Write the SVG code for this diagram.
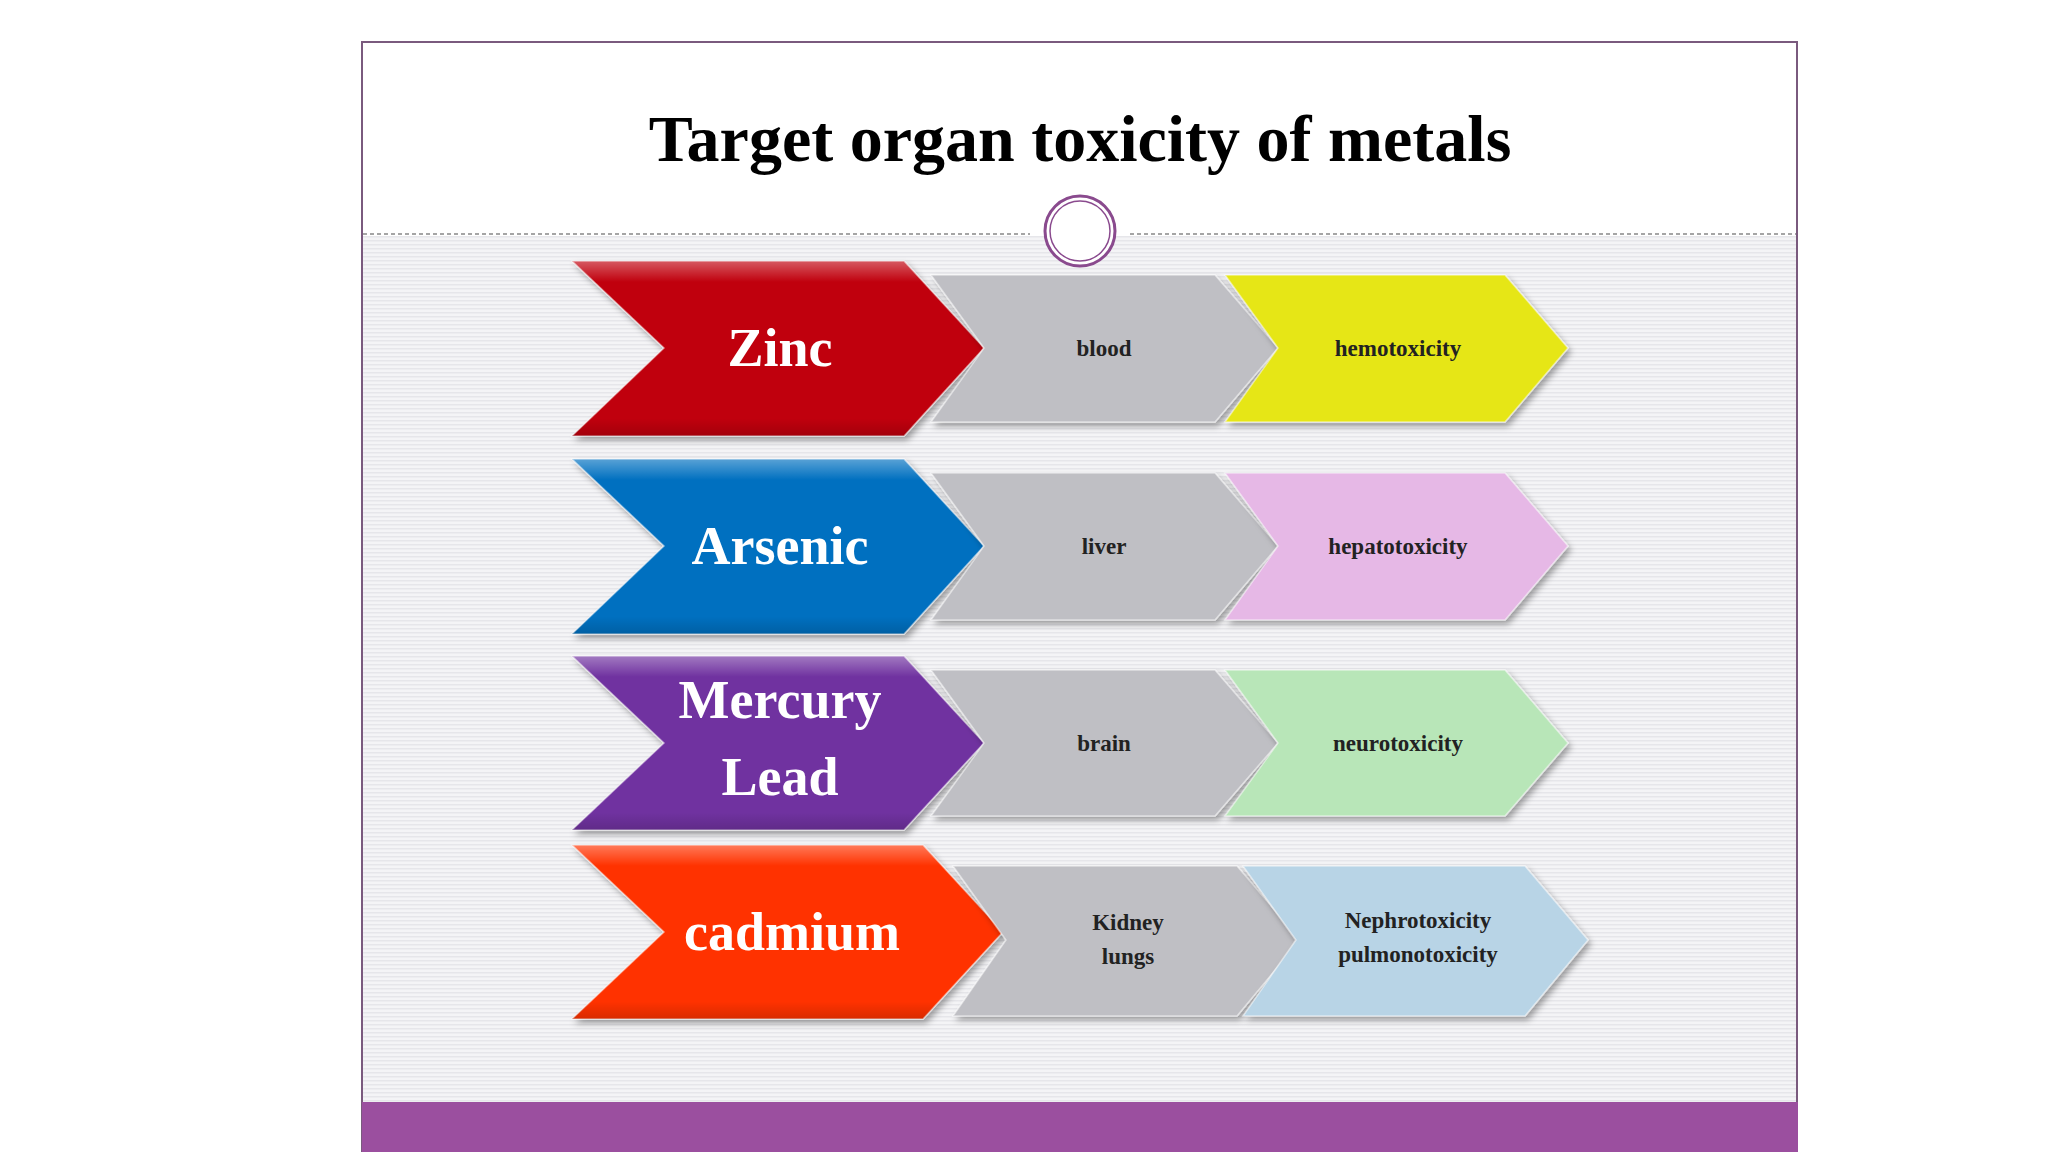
<svg xmlns="http://www.w3.org/2000/svg" width="2048" height="1152" viewBox="0 0 2048 1152">
<defs>
<pattern id="stripes" width="8" height="4" patternUnits="userSpaceOnUse"><rect width="8" height="4" fill="#f4f4f6"/><rect width="8" height="1.5" fill="#e6e6ea"/></pattern>
<filter id="sh" x="-10%" y="-10%" width="130%" height="130%"><feDropShadow dx="3" dy="4" stdDeviation="3" flood-color="#000" flood-opacity="0.35"/></filter>
<linearGradient id="gloss" x1="0" y1="0" x2="0" y2="1"><stop offset="0" stop-color="#fff" stop-opacity="0.35"/><stop offset="0.12" stop-color="#fff" stop-opacity="0"/><stop offset="0.9" stop-color="#000" stop-opacity="0"/><stop offset="1" stop-color="#000" stop-opacity="0.15"/></linearGradient>
</defs>
<style>
.big{font-family:"Liberation Serif",serif;font-weight:bold;font-size:54px;fill:#fff;text-anchor:middle}
.sm{font-family:"Liberation Serif",serif;font-weight:bold;font-size:23px;fill:#222;text-anchor:middle}
.ch{filter:url(#sh);stroke:#fff;stroke-opacity:0.5;stroke-width:1.5}
</style>
<rect width="2048" height="1152" fill="#fff"/>
<rect x="362" y="42" width="1435" height="1110" fill="#fff" stroke="#7a5a7e" stroke-width="2"/>
<rect x="363" y="236" width="1433" height="866" fill="url(#stripes)"/>
<rect x="362" y="1102" width="1436" height="50" fill="#9b4f9f"/>
<text x="1080" y="161" font-family="Liberation Serif,serif" font-weight="bold" font-size="66" text-anchor="middle" fill="#000">Target organ toxicity of metals</text>
<g stroke="#888" stroke-width="1.5" stroke-dasharray="4,3"><line x1="363" y1="234" x2="1030" y2="234"/><line x1="1130" y1="234" x2="1796" y2="234"/></g>
<circle cx="1080" cy="231" r="35" fill="#fff" stroke="#8a4a8e" stroke-width="3"/>
<circle cx="1080" cy="231" r="30" fill="none" stroke="#8a4a8e" stroke-width="1.5"/>

<g id="zinc"><path class="ch" d="M572,261 L904,261 L984,348 L904,436 L572,436 L664,348 Z" fill="#c0000c"/><path d="M572,261 L904,261 L984,348 L904,436 L572,436 L664,348 Z" fill="url(#gloss)"/><text class="big" x="780" y="366">Zinc</text></g>
<g id="blood"><path class="ch" d="M931,275 L1215,275 L1278,348 L1215,422 L931,422 L984,348 Z" fill="#bfbfc4"/><text class="sm" x="1104" y="356">blood</text></g>
<g id="hemotoxicity"><path class="ch" d="M1225,275 L1505,275 L1568,348 L1505,422 L1225,422 L1278,348 Z" fill="#e6e619"/><text class="sm" x="1398" y="356">hemotoxicity</text></g>

<g id="arsenic"><path class="ch" d="M572,459 L904,459 L984,546 L904,634 L572,634 L664,546 Z" fill="#0070c0"/><path d="M572,459 L904,459 L984,546 L904,634 L572,634 L664,546 Z" fill="url(#gloss)"/><text class="big" x="780" y="564">Arsenic</text></g>
<g id="liver"><path class="ch" d="M931,473 L1215,473 L1278,546 L1215,620 L931,620 L984,546 Z" fill="#bfbfc4"/><text class="sm" x="1104" y="554">liver</text></g>
<g id="hepatotoxicity"><path class="ch" d="M1225,473 L1505,473 L1568,546 L1505,620 L1225,620 L1278,546 Z" fill="#e6b8e6"/><text class="sm" x="1398" y="554">hepatotoxicity</text></g>

<g id="mercury"><path class="ch" d="M572,656 L904,656 L984,743 L904,830 L572,830 L664,743 Z" fill="#7030a0"/><path d="M572,656 L904,656 L984,743 L904,830 L572,830 L664,743 Z" fill="url(#gloss)"/><text class="big" x="780" y="718">Mercury</text><text class="big" x="780" y="795">Lead</text></g>
<g id="brain"><path class="ch" d="M931,670 L1215,670 L1278,743 L1215,816 L931,816 L984,743 Z" fill="#bfbfc4"/><text class="sm" x="1104" y="751">brain</text></g>
<g id="neurotoxicity"><path class="ch" d="M1225,670 L1505,670 L1568,743 L1505,816 L1225,816 L1278,743 Z" fill="#b8e6b8"/><text class="sm" x="1398" y="751">neurotoxicity</text></g>

<g id="cadmium"><path class="ch" d="M572,845 L923,845 L1003,932 L923,1019 L572,1019 L664,932 Z" fill="#ff3300"/><path d="M572,845 L923,845 L1003,932 L923,1019 L572,1019 L664,932 Z" fill="url(#gloss)"/><text class="big" x="792" y="950">cadmium</text></g>
<g id="kidney"><path class="ch" d="M953,866 L1237,866 L1300,940 L1237,1016 L953,1016 L1006,940 Z" fill="#bfbfc4"/><text class="sm" x="1128" y="930">Kidney</text><text class="sm" x="1128" y="964">lungs</text></g>
<g id="nephrotoxicity"><path class="ch" d="M1243,866 L1525,866 L1588,940 L1525,1016 L1243,1016 L1296,940 Z" fill="#b8d4e6"/><text class="sm" x="1418" y="928">Nephrotoxicity</text><text class="sm" x="1418" y="962">pulmonotoxicity</text></g>
<g id="connectors"/>
</svg>
